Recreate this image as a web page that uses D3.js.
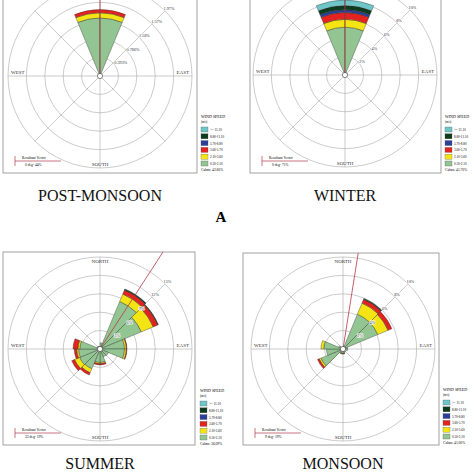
<!DOCTYPE html>
<html><head><meta charset="utf-8">
<script src="https://cdn.jsdelivr.net/npm/d3@7"></script>
<style>body{margin:0;background:#fff}svg{display:block}</style>
</head><body>
<script>
// direction bins: 16 sectors, centred at 11.25 + 22.5*k degrees
const dirCenters = d3.range(16).map(k => 11.25 + 22.5 * k);
const speedClasses = [">= 11.10", "8.80-11.10", "5.70-8.80", "3.60-5.70", "2.10-3.60", "0.50-2.10"];
const speedColors = ["#6fc6c8", "#0d3b1d", "#2b3f98", "#e2231f", "#f4e413", "#93c593"];
// per-season petals: [dir index, 0.5-2.1, 2.1-3.6, 3.6-5.7, 5.7-8.8, 8.8-11.1, >=11.1] in %
const postMonsoon = [[15, 1.24, 0.11, 0.07, 0, 0, 0], [0, 1.24, 0.11, 0.07, 0, 0, 0]];
const winter = [[15, 5.2, 0.85, 0.75, 0.3, 0.45, 0.6], [0, 5.2, 0.85, 0.75, 0.3, 0.45, 0.6]];
const summer = [
  [0, 1.0, 0, 0, 0, 0, 0], [1, 8.4, 1.3, 0.7, 0, 0.2, 0], [2, 7.3, 2.1, 0.8, 0, 0.1, 0],
  [3, 4.0, 0.3, 0.1, 0, 0, 0], [4, 4.0, 0.3, 0.1, 0, 0, 0], [5, 1.5, 0, 0, 0, 0, 0],
  [6, 1.4, 0, 0, 0, 0, 0], [7, 2.2, 0.2, 0.2, 0, 0, 0], [8, 2.2, 0.2, 0.2, 0, 0, 0],
  [9, 3.5, 0.7, 0.4, 0, 0, 0], [10, 3.6, 0.9, 0.5, 0, 0, 0], [11, 3.5, 0.3, 0.4, 0, 0, 0],
  [12, 3.3, 0.3, 0.8, 0, 0, 0], [13, 0.5, 0, 0, 0, 0, 0], [14, 0.5, 0, 0, 0, 0, 0], [15, 0.4, 0, 0, 0, 0, 0]];
const monsoon = [
  [1, 4.1, 1.3, 0.45, 0, 0.1, 0], [2, 4.1, 1.2, 0.45, 0, 0, 0], [3, 0.5, 0, 0, 0, 0, 0],
  [4, 0.5, 0, 0, 0, 0, 0], [6, 0.4, 0, 0, 0, 0, 0], [7, 0.5, 0, 0.05, 0, 0, 0],
  [8, 0.5, 0, 0.05, 0, 0, 0], [9, 0.5, 0.05, 0, 0, 0, 0], [10, 2.6, 0.2, 0.2, 0, 0, 0],
  [11, 1.8, 0, 0, 0, 0, 0], [12, 2.1, 0.3, 0, 0, 0, 0], [13, 0.5, 0, 0, 0, 0, 0]];
const ringLabels = {
  post: ["0.393%", "0.786%", "1.18%", "1.57%", "1.97%"],
  winter: ["2%", "4%", "6%", "8%", "10%"],
  summer: ["3%", "6%", "9%", "12%", "15%"],
  monsoon: ["2%", "4%", "6%", "8%", "10%"]
};
const ringSteps = { post: 0.393, winter: 2, summer: 3, monsoon: 2 };
const titles = ["POST-MONSOON", "WINTER", "SUMMER", "MONSOON"];
const calms = ["Calms: 42.60%", "Calms: 41.70%", "Calms: 36.09%", "Calms: 41.00%"];
const resultant = ["0 deg- 44%", "0 deg- 71%", "33 deg- 19%", "9 deg- 19%"];
const resultantDeg = [0, 0, 33, 9];

const W = 474, H = 474, R = 92;
const svg = d3.select("body").append("svg").attr("width", W).attr("height", H)
  .style("font-family", "'Liberation Serif', serif");

const panels = [
  { key: "post", data: postMonsoon, cx: 100, cy: 76, fx: 3, fy: -20, fw: 194, fh: 193, lx: 201, ly: 116, ty: 201, top: true },
  { key: "winter", data: winter, cx: 345, cy: 75, fx: 250, fy: -20, fw: 191, fh: 193, lx: 445, ly: 116, ty: 201, top: true },
  { key: "summer", data: summer, cx: 100, cy: 349, fx: 3, fy: 252, fw: 192, fh: 193, lx: 200, ly: 390, ty: 469 },
  { key: "monsoon", data: monsoon, cx: 343, cy: 349, fx: 243, fy: 253, fw: 196, fh: 192, lx: 443, ly: 389, ty: 469 }
];

const rad = d => d * Math.PI / 180;

panels.forEach((p, i) => {
  const step = ringSteps[p.key];
  const r = d3.scaleLinear().domain([0, step * 5]).range([0, R]);
  const clipId = "clip" + i;
  svg.append("clipPath").attr("id", clipId).append("rect")
    .attr("x", p.fx).attr("y", p.fy).attr("width", p.fw).attr("height", p.fh);

  svg.append("rect").attr("x", p.fx).attr("y", p.fy).attr("width", p.fw).attr("height", p.fh)
    .attr("fill", "#fff").attr("stroke", "#8a8a8a").attr("stroke-width", 0.8);

  const g = svg.append("g").attr("clip-path", `url(#${clipId})`)
    .append("g").attr("transform", `translate(${p.cx},${p.cy})`);

  // grid
  g.selectAll("circle.ring").data(d3.range(1, 6)).join("circle")
    .attr("r", d => r(d * step)).attr("fill", "none").attr("stroke", "#aaa").attr("stroke-width", 0.6);
  g.selectAll("line.spoke").data(d3.range(8)).join("line")
    .attr("x1", 0).attr("y1", 0)
    .attr("x2", d => R * Math.sin(rad(d * 45))).attr("y2", d => -R * Math.cos(rad(d * 45)))
    .attr("stroke", "#aaa").attr("stroke-width", 0.6);

  // petals
  const arc = d3.arc();
  p.data.forEach(row => {
    const a0 = rad(dirCenters[row[0]] - 11.25), a1 = rad(dirCenters[row[0]] + 11.25);
    let cum = 0;
    for (let c = 0; c < 6; c++) {
      if (row[c + 1] <= 0) continue;
      g.append("path")
        .attr("d", arc({ innerRadius: r(cum), outerRadius: r(cum + row[c + 1]), startAngle: a0, endAngle: a1 }))
        .attr("fill", speedColors[5 - c]).attr("stroke", "#333").attr("stroke-width", 0.4);
      cum += row[c + 1];
    }
  });

  // direction labels (NORTH lies above the picture in the top row)
  const lab = [["SOUTH", 0, R - 2, "middle"], ["WEST", -R + 3, -2, "start"], ["EAST", R - 3, -2, "end"]];
  if (!p.top) lab.push(["NORTH", 0, -R + 6, "middle"]);
  lab.forEach(l => g.append("text").attr("x", l[1]).attr("y", l[2]).attr("text-anchor", l[3])
    .attr("font-size", 5).attr("fill", "#333").text(l[0]));

  // ring labels
  ringLabels[p.key].forEach((t, k) => {
    const rr = r((k + 1) * step);
    const a = rad(42);
    g.append("text").attr("x", rr * Math.sin(a) + 2).attr("y", -rr * Math.cos(a) + 2)
      .attr("font-size", 4.2).attr("fill", "#333")
      .attr("stroke", "#fff").attr("stroke-width", 1.2).attr("paint-order", "stroke").text(t);
  });

  // resultant vector
  const va = rad(resultantDeg[i]);
  g.append("line").attr("x1", 0).attr("y1", 0)
    .attr("x2", 200 * Math.sin(va)).attr("y2", -200 * Math.cos(va))
    .attr("stroke", "#b03a48").attr("stroke-width", 0.8);

  g.append("circle").attr("r", 2.6).attr("fill", "#fff").attr("stroke", "#333").attr("stroke-width", 0.6);

  // resultant vector key
  const bx = p.fx + 12, by = p.fy + p.fh - 12;
  svg.append("line").attr("x1", bx).attr("y1", by).attr("x2", bx + 46).attr("y2", by)
    .attr("stroke", "#b03a48").attr("stroke-width", 0.7);
  svg.append("line").attr("x1", bx).attr("y1", by - 5).attr("x2", bx).attr("y2", by + 5)
    .attr("stroke", "#b03a48").attr("stroke-width", 0.7);
  svg.append("text").attr("x", bx + 7).attr("y", by - 2).attr("font-size", 3.6).text("Resultant Vector");
  svg.append("text").attr("x", bx + 10).attr("y", by + 5).attr("font-size", 3.6).text(resultant[i]);

  // legend
  const lg = svg.append("g").attr("transform", `translate(${p.lx},${p.ly})`);
  lg.append("text").attr("y", 2).attr("font-size", 4).text("WIND SPEED");
  lg.append("text").attr("y", 7).attr("font-size", 3).text("(m/s)");
  speedClasses.forEach((s, k) => {
    lg.append("rect").attr("x", 0).attr("y", 11 + k * 6.8).attr("width", 7).attr("height", 5)
      .attr("fill", speedColors[k]).attr("stroke", "#555").attr("stroke-width", 0.3);
    lg.append("text").attr("x", 9).attr("y", 15 + k * 6.8).attr("font-size", 3.3).text(s);
  });
  lg.append("text").attr("y", 55).attr("font-size", 3.6).text(calms[i]);

  // title
  svg.append("text").attr("x", p.cx).attr("y", p.ty).attr("text-anchor", "middle")
    .attr("font-size", 16).attr("fill", "#111").text(titles[i]);
});

svg.append("text").attr("x", 221).attr("y", 222).attr("text-anchor", "middle")
  .attr("font-size", 15).attr("font-weight", "bold").text("A");
</script>
</body></html>
